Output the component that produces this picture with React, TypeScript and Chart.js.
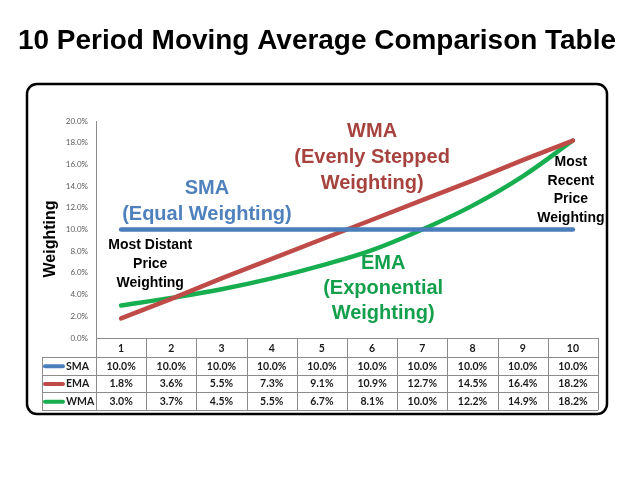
import React, { useEffect, useRef } from "react";
import { Chart, registerables } from "chart.js";

Chart.register(...registerables);

// Periods 1 (oldest price) .. 10 (most recent price)
const periods = ["1", "2", "3", "4", "5", "6", "7", "8", "9", "10"];

// Weight given to each period, in percent
const smaValues = [10.0, 10.0, 10.0, 10.0, 10.0, 10.0, 10.0, 10.0, 10.0, 10.0];
const emaValues = [1.8, 3.6, 5.5, 7.3, 9.1, 10.9, 12.7, 14.5, 16.4, 18.2];
const wmaValues = [3.0, 3.7, 4.5, 5.5, 6.7, 8.1, 10.0, 12.2, 14.9, 18.2];

const seriesNames = ["SMA", "EMA", "WMA"];
const seriesColors = ["#4A7EBB", "#BE4B48", "#17AE50"];

const TITLE = "10 Period Moving Average Comparison Table";
const AXIS_TITLE = "Weighting";

const fmt = (v: number) => v.toFixed(1) + "%";

const HEAD = "'Liberation Sans', Arial, sans-serif";
const BODY = "Lato, 'Open Sans', sans-serif";

type Note = { lines: string[]; color: string; size: number; gap: number; at: [number, number] };

// Callouts positioned in data space: at = [period index, weight %] of the first line
const notes: Note[] = [
  { lines: ["SMA", "(Equal Weighting)"], color: "#4F81BD", size: 20, gap: 26, at: [1.71, 13.8] },
  { lines: ["WMA", "(Evenly Stepped", "Weighting)"], color: "#A7433F", size: 20, gap: 26, at: [5.0, 19.0] },
  { lines: ["EMA", "(Exponential", "Weighting)"], color: "#139F4C", size: 20, gap: 25, at: [5.22, 6.9] },
  { lines: ["Most Distant", "Price", "Weighting"], color: "#000", size: 14, gap: 19, at: [0.58, 8.6] },
  { lines: ["Most", "Recent", "Price", "Weighting"], color: "#000", size: 14, gap: 18.5, at: [8.96, 16.2] },
];

const overlay = {
  id: "overlay",
  afterDraw(chart: any) {
    const { ctx, chartArea, scales } = chart;
    const xs = scales.x;
    const ys = scales.y;
    ctx.save();

    // Title
    ctx.fillStyle = "#000";
    ctx.font = `bold 28px ${HEAD}`;
    ctx.textAlign = "center";
    ctx.textBaseline = "alphabetic";
    ctx.fillText(TITLE, 317, 49, 598);

    // Rounded frame
    ctx.lineWidth = 2.5;
    ctx.strokeStyle = "#000";
    ctx.beginPath();
    ctx.roundRect(27, 84, 580, 330, 10);
    ctx.stroke();

    // Axis title
    ctx.save();
    ctx.translate(55, 239);
    ctx.rotate(-Math.PI / 2);
    ctx.font = `bold 16px ${HEAD}`;
    ctx.textAlign = "center";
    ctx.textBaseline = "alphabetic";
    ctx.fillText(AXIS_TITLE, 0, 0);
    ctx.restore();

    // Data table under the plot
    const top = chartArea.bottom;
    const headH = 19;
    const rowH = 17.7;
    const labelLeft = 42;
    const left = chartArea.left;
    const right = chartArea.right;
    const colW = (right - left) / periods.length;
    const bottom = top + headH + rowH * seriesNames.length;
    const crisp = (v: number) => Math.round(v) + 0.5;

    ctx.strokeStyle = "#8C8C8C";
    ctx.lineWidth = 1;
    ctx.beginPath();
    ctx.moveTo(left, crisp(top));
    ctx.lineTo(right, crisp(top));
    for (let r = 0; r <= seriesNames.length; r++) {
      const y = crisp(top + headH + r * rowH);
      ctx.moveTo(labelLeft, y);
      ctx.lineTo(right, y);
    }
    ctx.moveTo(crisp(labelLeft), top + headH);
    ctx.lineTo(crisp(labelLeft), bottom);
    for (let c = 0; c <= periods.length; c++) {
      const x = crisp(left + c * colW);
      ctx.moveTo(x, top);
      ctx.lineTo(x, bottom);
    }
    ctx.stroke();

    const allValues = [smaValues, emaValues, wmaValues];
    ctx.fillStyle = "#1a1a1a";
    ctx.textAlign = "center";
    ctx.textBaseline = "middle";
    ctx.font = `bold 10.5px ${BODY}`;
    periods.forEach((p, i) => {
      ctx.fillText(p, xs.getPixelForValue(i), top + headH / 2 + 1);
    });
    seriesNames.forEach((name, r) => {
      const cy = top + headH + rowH * r + rowH / 2 + 0.5;
      ctx.strokeStyle = seriesColors[r];
      ctx.lineWidth = 4;
      ctx.lineCap = "round";
      ctx.beginPath();
      ctx.moveTo(labelLeft + 3, cy);
      ctx.lineTo(labelLeft + 21, cy);
      ctx.stroke();
      ctx.fillStyle = "#1a1a1a";
      ctx.textAlign = "left";
      ctx.fillText(name, labelLeft + 24, cy);
      ctx.textAlign = "center";
      allValues[r].forEach((v, i) => {
        ctx.fillText(fmt(v), xs.getPixelForValue(i), cy);
      });
    });

    // Callouts
    ctx.textAlign = "center";
    ctx.textBaseline = "middle";
    notes.forEach((n) => {
      ctx.fillStyle = n.color;
      ctx.font = `bold ${n.size}px ${HEAD}`;
      const x = xs.getPixelForValue(n.at[0]);
      const y0 = ys.getPixelForValue(n.at[1]);
      n.lines.forEach((line, k) => ctx.fillText(line, x, y0 + k * n.gap));
    });

    ctx.restore();
  },
};

export default function App() {
  const ref = useRef<HTMLCanvasElement>(null);

  useEffect(() => {
    const chart = new Chart(ref.current!, {
      type: "line",
      data: {
        labels: periods,
        datasets: [
          { label: seriesNames[0], data: smaValues, borderColor: seriesColors[0], tension: 0 },
          { label: seriesNames[1], data: emaValues, borderColor: seriesColors[1], tension: 0 },
          { label: seriesNames[2], data: wmaValues, borderColor: seriesColors[2], tension: 0.4 },
        ].map((d) => ({
          ...d,
          borderWidth: 4.5,
          pointRadius: 0,
          borderCapStyle: "round" as const,
          fill: false,
        })),
      },
      options: {
        animation: false,
        responsive: false,
        devicePixelRatio: 1,
        layout: { padding: { left: 0, top: 121, right: 40, bottom: 141 } },
        plugins: { legend: { display: false }, tooltip: { enabled: false }, title: { display: false } },
        scales: {
          x: { type: "category", offset: true, display: false },
          y: {
            min: 0,
            max: 20,
            afterFit: (scale: any) => {
              scale.width = 96;
            },
            grid: { display: false, drawTicks: false },
            border: { display: true, color: "#8C8C8C", width: 1 },
            ticks: {
              stepSize: 2,
              padding: 8,
              color: "#595959",
              font: { family: "Lato, sans-serif", size: 8 },
              callback: (v: any) => fmt(Number(v)),
            },
          },
        },
      },
      plugins: [overlay],
    });
    return () => chart.destroy();
  }, []);

  return (
    <div style={{ position: "absolute", left: 0, top: 0, width: 638, height: 479, background: "#fff" }}>
      <canvas ref={ref} width={638} height={479} style={{ display: "block" }} />
    </div>
  );
}
